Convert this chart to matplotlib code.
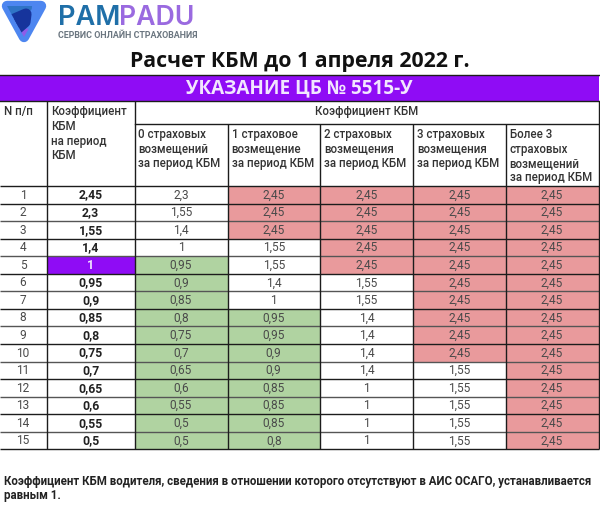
# -*- encoding: utf-8 -*-
import matplotlib
matplotlib.use("Agg")
from matplotlib import pyplot as plt
from matplotlib.patches import Polygon, Rectangle

# Data
row_numbers = list(range(1, 16))
base_kbm = ["2,45", "2,3", "1,55", "1,4", "1", "0,95", "0,9", "0,85", "0,8",
            "0,75", "0,7", "0,65", "0,6", "0,55", "0,5"]
claims_0 = ["2,3", "1,55", "1,4", "1", "0,95", "0,9", "0,85", "0,8", "0,75",
            "0,7", "0,65", "0,6", "0,55", "0,5", "0,5"]
claims_1 = ["2,45", "2,45", "2,45", "1,55", "1,55", "1,4", "1", "0,95", "0,95",
            "0,9", "0,9", "0,85", "0,85", "0,85", "0,8"]
claims_2 = ["2,45", "2,45", "2,45", "2,45", "2,45", "1,55", "1,55", "1,4", "1,4",
            "1,4", "1,4", "1", "1", "1", "1"]
claims_3 = ["2,45", "2,45", "2,45", "2,45", "2,45", "2,45", "2,45", "2,45", "2,45",
            "2,45", "1,55", "1,55", "1,55", "1,55", "1,55"]
claims_4 = ["2,45"] * 15
claims = [claims_0, claims_1, claims_2, claims_3, claims_4]
claim_headers = ["0 страховых\nвозмещений\nза период КБМ",
                 "1 страховое\nвозмещение\nза период КБМ",
                 "2 страховых\nвозмещения\nза период КБМ",
                 "3 страховых\nвозмещения\nза период КБМ",
                 "Более 3\nстраховых\nвозмещений\nза период КБМ"]

# Layout in pixels
col_x = [0, 47, 134.5, 227.5, 320, 413, 505.5, 598.5]
y_band_top, y_band_bot, y_sub, y_rows = 75, 100.5, 124, 186
row_h = 17.55

PURPLE = "#8f0cf5"
GREEN = "#b0d3a1"
RED = "#e99a9c"
LINE = "#1c1c1c"
CELL_TEXT = "#4a4a4a"
HEAD_TEXT = "#333333"

fig = plt.figure(figsize=(6.0, 5.05), dpi=100)
ax = fig.add_axes([0, 0, 1, 1])
ax.set_xlim(0, 600)
ax.set_ylim(505, 0)
ax.axis("off")

# logo
outer = Polygon([(7, 6), (41, 6), (24, 37)], closed=True, fc="#4d86f0", ec="#4d86f0",
                lw=7.5, joinstyle="round")
ax.add_patch(outer)
logo_parts = [
    ([(8, 30), (40, 30), (32, 50), (16, 50)], "#8f5ce8", 2),
    ([(0, 0), (32, 0), (31, 9), (14, 26), (0, 16)], "#2f74c6", 1),
    ([(12, 20), (26, 14), (25, 22), (17, 29)], "#16349c", 8),
]
for pts, color, lw in logo_parts:
    part = Polygon(pts, closed=True, fc=color, ec=color, lw=lw, joinstyle="round")
    ax.add_patch(part)
    part.set_clip_path(outer)

ax.text(58, 25, "PAM", color="#1f6fa8", fontsize=19.6, family="Inter", weight="semibold",
        va="baseline", ha="left")
ax.text(119, 25, "PADU", color="#9a6ae0", fontsize=19.2, family="Inter", weight="semibold",
        va="baseline", ha="left")
ax.text(58, 36, "СЕРВИС ОНЛАЙН СТРАХОВАНИЯ", color="#6b7680", fontsize=6.4,
        family="Roboto", weight="bold", va="center", ha="left")

ax.text(299.5, 61, "Расчет КБМ до 1 апреля 2022 г.", color="#111111", fontsize=15.3,
        family="Open Sans", weight="bold", ha="center", va="center")

# purple band
ax.add_patch(Rectangle((0, y_band_top), col_x[-1], y_band_bot - y_band_top, fc=PURPLE, ec="none"))
ax.text(299.5, 88.5, "УКАЗАНИЕ ЦБ № 5515-У", color="#f2e6ff", fontsize=13.6,
        family="Open Sans", weight="bold", ha="center", va="center")

# body cells
for i in range(len(row_numbers)):
    y0 = y_rows + i * row_h
    yc = y0 + row_h / 2 + 0.3
    ax.text((col_x[0] + col_x[1]) / 2 - 0.5, yc, str(row_numbers[i]), color=CELL_TEXT,
            fontsize=8.6, family="Roboto", ha="center", va="center")
    highlight = base_kbm[i] == "1"
    if highlight:
        ax.add_patch(Rectangle((col_x[1], y0), col_x[2] - col_x[1], row_h, fc=PURPLE, ec="none"))
    ax.text((col_x[1] + col_x[2]) / 2, yc, base_kbm[i], color="#f2e6ff" if highlight else "#222222",
            fontsize=8.8, family="Roboto", weight="bold", ha="center", va="center")
    for j, col in enumerate(claims):
        val = col[i]
        num = float(val.replace(",", "."))
        if num < 1:
            fc = GREEN
        elif num == 2.45:
            fc = RED
        else:
            fc = "white"
        ax.add_patch(Rectangle((col_x[j + 2], y0), col_x[j + 3] - col_x[j + 2], row_h, fc=fc, ec="none"))
        ax.text((col_x[j + 2] + col_x[j + 3]) / 2, yc, val, color=CELL_TEXT,
                fontsize=8.6, family="Roboto", ha="center", va="center")

# header text
head_kw = dict(color=HEAD_TEXT, fontsize=8.3, family="Roboto", weight="medium",
               ha="left", va="top", linespacing=1.15)
ax.text(4, 105.5, "N п/п", **head_kw)
ax.text(51, 105.5, "Коэффициент\nКБМ\nна период\nКБМ", **head_kw)
ax.text(367, 111, "Коэффициент КБМ", color=HEAD_TEXT, fontsize=8.3, family="Roboto",
        weight="medium", ha="center", va="center")
for j, label in enumerate(claim_headers):
    ax.text(col_x[j + 2] + 4, 128, label, **head_kw)

# grid lines
y_end = y_rows + 15 * row_h
for i in range(16):
    y = y_rows + i * row_h
    ax.plot([0, col_x[-1]], [y, y], color="#555555" if i % 2 == 0 and 0 < i < 15 else LINE,
            lw=1.0, solid_capstyle="butt")
ax.plot([0, col_x[-1]], [y_band_top, y_band_top], color=LINE, lw=1.0)
ax.plot([0, col_x[-1]], [y_band_bot, y_band_bot], color=LINE, lw=1.0)
ax.plot([col_x[2], col_x[-1]], [y_sub, y_sub], color=LINE, lw=1.0)
for k, x in enumerate(col_x[1:], start=1):
    top = y_band_bot if k in (1, 2, 7) else y_sub
    ax.plot([x, x], [top, y_end], color=LINE, lw=1.0, solid_capstyle="butt")

# footnote
ax.text(3.5, 481, "Коэффициент КБМ водителя, сведения в отношении которого отсутствуют в АИС ОСАГО, устанавливается",
        color="#222222", fontsize=8.3, family="Roboto", weight="bold", ha="left", va="center")
ax.text(3.5, 495.5, "равным 1.", color="#222222", fontsize=8.3, family="Roboto", weight="bold",
        ha="left", va="center")

fig.savefig("out.png", dpi=100)
